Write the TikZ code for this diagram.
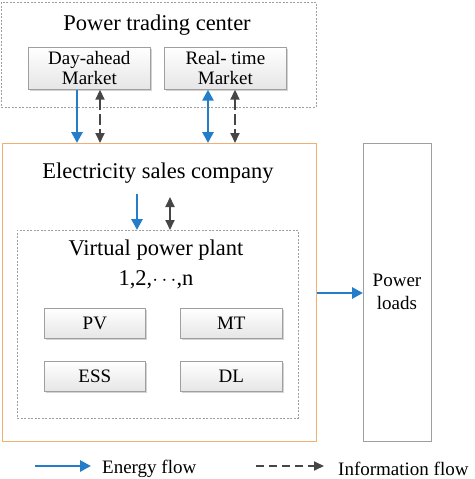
\documentclass[tikz,border=0pt]{standalone}
\usepackage{fontspec}
\setmainfont{Liberation Serif}
\usetikzlibrary{arrows.meta,shadows}
\definecolor{eblue}{RGB}{35,125,200}
\definecolor{igrey}{RGB}{70,70,70}
\definecolor{obox}{RGB}{240,175,115}
\tikzset{
  region/.style={draw=gray!75, dash pattern=on 2pt off 1.5pt, line width=0.7pt, inner sep=0pt, anchor=north west},
  plainbox/.style={inner sep=0pt, anchor=north west},
  unitbox/.style={draw=gray!75, top color=white, bottom color=gray!20, line width=0.7pt,
    drop shadow={shadow xshift=1.2pt, shadow yshift=-1.2pt, opacity=0.35},
    font=\fontsize{19}{20}\selectfont, align=center, inner sep=0pt, anchor=north west},
  bigtext/.style={font=\fontsize{22.5}{30}\selectfont, align=center, inner sep=0pt},
  midtext/.style={font=\fontsize{19}{23}\selectfont, align=center, inner sep=0pt},
  energy/.style={draw=eblue, line width=2.8pt, -{Triangle[length=11pt,width=11pt]}},
  energy2/.style={draw=eblue, line width=2.8pt, {Triangle[length=11pt,width=11pt]}-{Triangle[length=11pt,width=11pt]}},
  info/.style={draw=igrey, line width=1.8pt, dash pattern=on 11pt off 4pt, {Triangle[length=10pt,width=9pt]}-{Triangle[length=10pt,width=9pt]}},
  info1/.style={draw=igrey, line width=1.8pt, dash pattern=on 8pt off 5pt, -{Triangle[length=10pt,width=9pt]}},
}
\begin{document}
\begin{tikzpicture}[x=1pt,y=-1pt]
\useasboundingbox (0,0) rectangle (474,479);
% power trading center
\node[region, minimum width=315pt, minimum height=105pt] (ptc) at (1,2) {};
\node[bigtext] (ptct) at (157,25) {Power trading center};
\node[unitbox, minimum width=122pt, minimum height=42pt] (da) at (28,47) {Day-ahead\\Market};
\node[unitbox, minimum width=122pt, minimum height=42pt] (rt) at (164,47) {Real- time\\Market};
% electricity sales company
\node[plainbox, draw=obox, line width=1pt, minimum width=314pt, minimum height=298pt] (esc) at (2,143) {};
\node[bigtext] (esct) at (158,173) {Electricity sales company};
% virtual power plant
\node[region, minimum width=281pt, minimum height=188pt] (vpp) at (17,230) {};
\node[bigtext] (vppt) at (156,264) {Virtual power plant\\1,2,$\cdots$,n};
\node[unitbox, minimum width=101pt, minimum height=30pt] (pv) at (44,308) {PV};
\node[unitbox, minimum width=102pt, minimum height=30pt] (mt) at (180,308) {MT};
\node[unitbox, minimum width=101pt, minimum height=30pt] (ess) at (44,361) {ESS};
\node[unitbox, minimum width=102pt, minimum height=30pt] (dl) at (180,361) {DL};
% power loads
\node[plainbox, draw=gray!75, line width=0.8pt, minimum width=68pt, minimum height=298pt] (pl) at (363,143) {};
\node[midtext] (plt) at (397,292) {Power\\loads};
% arrows between market and company
\coordinate (x1) at (77,0);
\coordinate (x2) at (100,0);
\coordinate (x3) at (208,0);
\coordinate (x4) at (235,0);
\draw[energy] (da.south -| x1) -- (esc.north -| x1);
\draw[info] (da.south -| x2) -- (esc.north -| x2);
\draw[energy2] (rt.south -| x3) -- (esc.north -| x3);
\draw[info] (rt.south -| x4) -- (esc.north -| x4);
% company to vpp
\coordinate (s1) at (137,194);
\coordinate (s2) at (170,197);
\draw[energy] (s1) -- (s1 |- vpp.north);
\draw[info, dash pattern=on 20pt off 2pt] (s2) -- (s2 |- vpp.north);
% company to loads
\coordinate (s3) at (0,293);
\draw[energy] (esc.east |- s3) -- (pl.west |- s3);
% legend
\coordinate (l1) at (35,466);
\coordinate (l2) at (91,466);
\coordinate (l3) at (256,466);
\coordinate (l4) at (324,466);
\draw[energy] (l1) -- (l2);
\draw[info1] (l3) -- (l4);
\node[midtext, anchor=west] (lt1) at (102,469) {Energy flow};
\node[midtext, anchor=west] (lt2) at (338,469) {Information flow};
\end{tikzpicture}
\end{document}
